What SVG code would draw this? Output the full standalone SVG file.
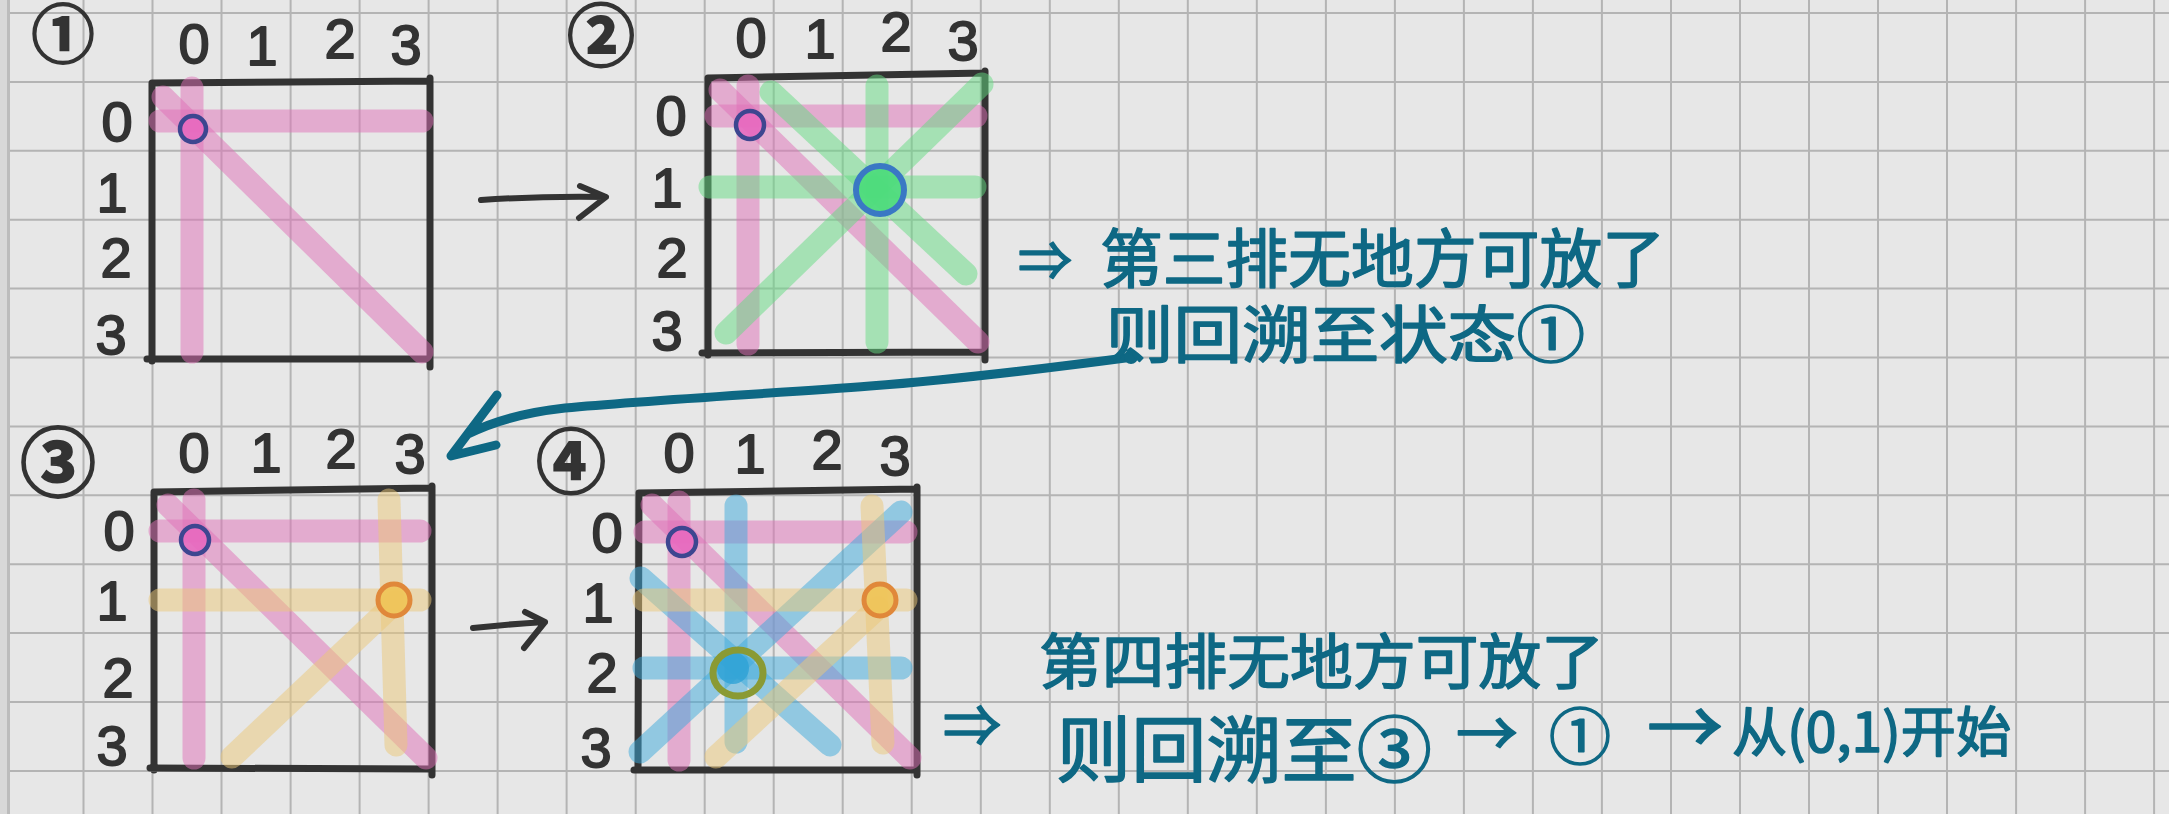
<svg xmlns="http://www.w3.org/2000/svg" width="2169" height="814" viewBox="0 0 2169 814">
<style>
.grid{stroke:#b4b4b4;stroke-width:2;fill:none}
.box{fill:none;stroke:#333;stroke-width:7;stroke-linecap:round;stroke-linejoin:round}
.band{fill:none;stroke-width:23;stroke-linecap:round;stroke-opacity:0.5}
.pk{stroke:#e070b8}
.gr{stroke:#64dc82}
.ye{stroke:#ebc878}
.bl{stroke:#3caadc}
.num{font-family:"Liberation Sans",Arial,sans-serif;font-size:56px;fill:#333;stroke:#333;stroke-width:1.8;stroke-linejoin:round;text-anchor:middle}
.circ{font-family:"Noto Sans CJK SC","DejaVu Sans",sans-serif;font-weight:bold;fill:#333;stroke:#333;stroke-width:1.8;text-anchor:middle}
.arr{fill:none;stroke:#333;stroke-width:6;stroke-linecap:round;stroke-linejoin:round}
.teal{font-family:"Noto Sans CJK SC","Noto Sans",sans-serif;fill:#0e6884;stroke:#0e6884;stroke-width:1.6;stroke-linejoin:round}
.tline{fill:none;stroke:#0e6884;stroke-width:9;stroke-linecap:round;stroke-linejoin:round}
</style>
<rect x="0" y="0" width="2169" height="814" fill="#e7e7e7"/>
<rect x="0" y="0" width="8" height="814" fill="#d8d8d8"/>
<g id="grid">
<path class="grid" d="M83.5 0V814M152.5 0V814M221.5 0V814M290.6 0V814M359.6 0V814M428.6 0V814M497.6 0V814M566.6 0V814M635.7 0V814M704.7 0V814M773.7 0V814M842.7 0V814M911.7 0V814M980.8 0V814M1049.8 0V814M1118.8 0V814M1187.8 0V814M1256.8 0V814M1325.9 0V814M1394.9 0V814M1463.9 0V814M1532.9 0V814M1601.9 0V814M1671 0V814M1740 0V814M1809 0V814M1878 0V814M1947 0V814M2016.1 0V814M2085.1 0V814M2154.1 0V814"/>
<path class="grid" d="M8 13H2169M8 81.9H2169M8 150.8H2169M8 219.7H2169M8 288.6H2169M8 357.5H2169M8 426.4H2169M8 495.3H2169M8 564.2H2169M8 633.1H2169M8 702H2169M8 770.9H2169"/>
<path d="M8.5 0V814" stroke="#bcbcbc" stroke-width="3"/>
</g>

<g id="state1">
<text class="circ" x="63" y="57" font-size="63">①</text>
<text class="num" x="194" y="63">0</text>
<text class="num" x="262" y="65">1</text>
<text class="num" x="340" y="58" font-size="40">2</text>
<text class="num" x="406" y="64">3</text>
<text class="num" x="117" y="141">0</text>
<text class="num" x="112" y="212">1</text>
<text class="num" x="116" y="277">2</text>
<text class="num" x="111" y="354">3</text>
<path class="box" d="M152 83L430 81M430 78L430 367M147 359L430 359M152 83L152 361"/>
<line class="band pk" x1="192" y1="88" x2="192" y2="352"/>
<line class="band pk" x1="160" y1="121" x2="422" y2="121"/>
<line class="band pk" x1="163" y1="97" x2="422" y2="352"/>
<circle cx="193" cy="129" r="13" fill="#e868c0" fill-opacity="0.85" stroke="#3d4690" stroke-width="4.5"/>
</g>

<g id="state2">
<text class="circ" x="601" y="61" font-size="68">②</text>
<text class="num" x="751" y="57">0</text>
<text class="num" x="820" y="58">1</text>
<text class="num" x="896" y="51" font-size="40">2</text>
<text class="num" x="963" y="60">3</text>
<text class="num" x="671" y="135">0</text>
<text class="num" x="667" y="207">1</text>
<text class="num" x="672" y="277">2</text>
<text class="num" x="667" y="350">3</text>
<path class="box" d="M708 78L985 73M985 71L985 360M702 353L985 352M708 78L708 355"/>
<line class="band pk" x1="748" y1="86" x2="748" y2="344"/>
<line class="band pk" x1="716" y1="116" x2="976" y2="116"/>
<line class="band pk" x1="720" y1="90" x2="978" y2="342"/>
<line class="band gr" x1="877" y1="86" x2="877" y2="342"/>
<line class="band gr" x1="710" y1="187" x2="975" y2="187"/>
<line class="band gr" x1="726" y1="333" x2="982" y2="84"/>
<line class="band gr" x1="771" y1="92" x2="966" y2="274"/>
<circle cx="750" cy="125" r="14" fill="#e868c0" fill-opacity="0.85" stroke="#3d4690" stroke-width="4.5"/>
<circle cx="880" cy="190" r="24" fill="#4cdc7c" fill-opacity="0.9" stroke="#3a78c4" stroke-width="6"/>
</g>

<g id="state3">
<text class="circ" x="58" y="491" font-size="76">③</text>
<text class="num" x="194" y="472">0</text>
<text class="num" x="266" y="472">1</text>
<text class="num" x="341" y="468" font-size="40">2</text>
<text class="num" x="410" y="473">3</text>
<text class="num" x="119" y="550">0</text>
<text class="num" x="112" y="620">1</text>
<text class="num" x="118" y="697">2</text>
<text class="num" x="112" y="765">3</text>
<path class="box" d="M154 492L432 488M432 486L432 775M150 768L432 769M154 492L154 770"/>
<line class="band pk" x1="194" y1="500" x2="194" y2="758"/>
<line class="band pk" x1="160" y1="531" x2="420" y2="531"/>
<line class="band pk" x1="168" y1="505" x2="426" y2="758"/>
<line class="band ye" x1="389" y1="500" x2="396" y2="745"/>
<line class="band ye" x1="160" y1="600" x2="420" y2="600"/>
<line class="band ye" x1="232" y1="757" x2="396" y2="602"/>
<circle cx="195" cy="540" r="14" fill="#e868c0" fill-opacity="0.85" stroke="#3d4690" stroke-width="4.5"/>
<circle cx="394" cy="600" r="16" fill="#f0c458" fill-opacity="0.9" stroke="#e0883a" stroke-width="5"/>
</g>

<g id="state4">
<text class="circ" x="571" y="488" font-size="70">④</text>
<text class="num" x="679" y="472">0</text>
<text class="num" x="750" y="473">1</text>
<text class="num" x="827" y="469" font-size="40">2</text>
<text class="num" x="895" y="475">3</text>
<text class="num" x="607" y="552">0</text>
<text class="num" x="598" y="622">1</text>
<text class="num" x="602" y="692">2</text>
<text class="num" x="596" y="767">3</text>
<path class="box" d="M639 493L917 489M917 487L917 775M634 770L917 770M639 493L638 770"/>
<line class="band pk" x1="679" y1="502" x2="679" y2="760"/>
<line class="band pk" x1="645" y1="532" x2="906" y2="532"/>
<line class="band pk" x1="652" y1="505" x2="910" y2="758"/>
<line class="band bl" x1="736" y1="506" x2="736" y2="742"/>
<line class="band bl" x1="644" y1="668" x2="901" y2="668"/>
<line class="band bl" x1="641" y1="578" x2="830" y2="745"/>
<line class="band bl" x1="640" y1="752" x2="901" y2="512"/>
<line class="band ye" x1="872" y1="506" x2="883" y2="743"/>
<line class="band ye" x1="644" y1="600" x2="906" y2="600"/>
<line class="band ye" x1="716" y1="757" x2="878" y2="608"/>
<circle cx="682" cy="542" r="14" fill="#e868c0" fill-opacity="0.85" stroke="#3d4690" stroke-width="4.5"/>
<circle cx="880" cy="600" r="16" fill="#f0c458" fill-opacity="0.9" stroke="#e0883a" stroke-width="5"/>
<circle cx="733" cy="668" r="16" fill="#30a2d6" fill-opacity="0.8"/>
<ellipse cx="738" cy="673" rx="25" ry="23" fill="none" stroke="#8a9a34" stroke-width="7"/>
</g>

<g id="connectors">
<path class="arr" d="M481 200Q540 196 605 197M580 186L606 197L579 218"/>
<path class="arr" d="M473 628Q510 624 545 622M525 612L545 622L524 648"/>
<path class="tline" d="M1133 357C1050 368 950 380 870 386C780 393 650 400 565 408C520 413 492 422 468 434M497 395L451 456L496 445"/>
<circle cx="1131" cy="357" r="7" fill="#0e6884"/>
</g>

<g id="notes">
<text class="teal" x="1018" y="281" font-size="54">⇒</text>
<text class="teal" x="1100" y="282" font-size="64" textLength="565" lengthAdjust="spacingAndGlyphs">第三排无地方可放了</text>
<text class="teal" x="1105" y="358" font-size="62" textLength="480" lengthAdjust="spacingAndGlyphs">则回溯至状态①</text>
<text class="teal" x="1039" y="684" font-size="60" textLength="565" lengthAdjust="spacingAndGlyphs">第四排无地方可放了</text>
<text class="teal" x="943" y="747" font-size="58">⇒</text>
<text class="teal" x="1056" y="776" font-size="72" textLength="376" lengthAdjust="spacingAndGlyphs">则回溯至③</text>
<text class="teal" x="1456" y="757" font-size="62">→</text>
<text class="teal" x="1549" y="760" font-size="62">①</text>
<text class="teal" x="1647" y="754" font-size="74" textLength="76" lengthAdjust="spacingAndGlyphs">→</text>
<text class="teal" x="1732" y="752" font-size="54" textLength="279" lengthAdjust="spacingAndGlyphs">从(0,1)开始</text>
</g>
</svg>
